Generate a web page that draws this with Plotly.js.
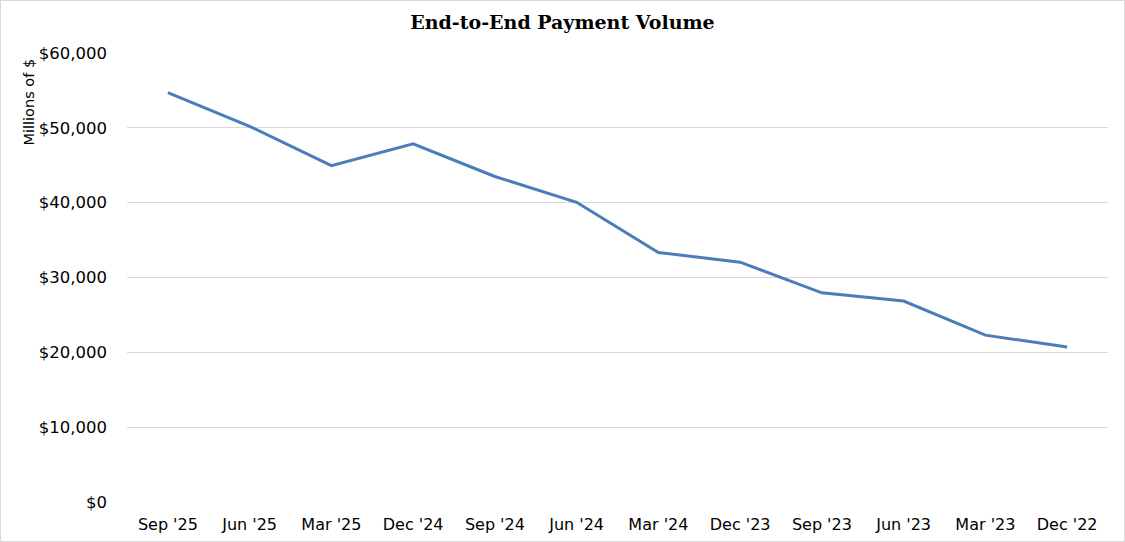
<!DOCTYPE html>
<html>
<head>
<meta charset="utf-8">
<script src="https://cdn.plot.ly/plotly-3.0.1.min.js"></script>
<style>html,body{margin:0;padding:0;background:#fff;}#chart{width:1125px;height:542px;}</style>
</head>
<body>
<div id="chart"></div>
<script>
const categories = ["Sep '25","Jun '25","Mar '25","Dec '24","Sep '24","Jun '24","Mar '24","Dec '23","Sep '23","Jun '23","Mar '23","Dec '22"];
const volume = [54700, 50200, 44950, 47850, 43500, 40050, 33350, 32050, 27950, 26850, 22300, 20700];
const yTickVals = [0, 10000, 20000, 30000, 40000, 50000, 60000];
const yTickText = ["$0","$10,000","$20,000","$30,000","$40,000","$50,000","$60,000"];

const trace = {
  x: categories, y: volume, type: 'scatter', mode: 'lines',
  line: {color: '#4a7ebb', width: 3}, hoverinfo: 'skip'
};
const layout = {
  width: 1125, height: 542,
  margin: {l: 127, r: 17, t: 53, b: 40},
  paper_bgcolor: '#fff', plot_bgcolor: '#fff',
  showlegend: false,
  title: {text: '<b>End-to-End Payment Volume</b>', x: 0.5, xanchor: 'center', y: 0.958, yanchor: 'middle',
          font: {family: "Georgia, 'DejaVu Serif', serif", size: 19, color: '#000'}},
  xaxis: {type: 'category', range: [-0.5, 11.5], showgrid: false, zeroline: false, showline: false, ticks: '',
          ticklabelstandoff: 11,
          tickfont: {family: "Verdana, 'DejaVu Sans', sans-serif", size: 16, color: '#000'}, fixedrange: true},
  yaxis: {range: [0, 60000], tickvals: yTickVals, ticktext: yTickText, showgrid: true, gridcolor: '#d9d9d9', gridwidth: 1,
          zeroline: false, showline: false, ticks: '', ticklabelstandoff: 19,
          tickfont: {family: "Verdana, 'DejaVu Sans', sans-serif", size: 16.5, color: '#000'},
          fixedrange: true},
  annotations: [{text: 'Millions of $', textangle: -90, xref: 'paper', yref: 'paper', x: 0, y: 1,
                 xanchor: 'center', yanchor: 'top', xshift: -99, yshift: -4, showarrow: false,
                 font: {family: "Verdana, 'DejaVu Sans', sans-serif", size: 14.5, color: '#000'}}]
};
Plotly.newPlot('chart', [trace], layout, {displayModeBar: false, staticPlot: true});
</script>
<div style="position:absolute;left:0;top:0;width:1123px;height:540px;border:1px solid #d9d9d9;pointer-events:none;"></div>
</body>
</html>
